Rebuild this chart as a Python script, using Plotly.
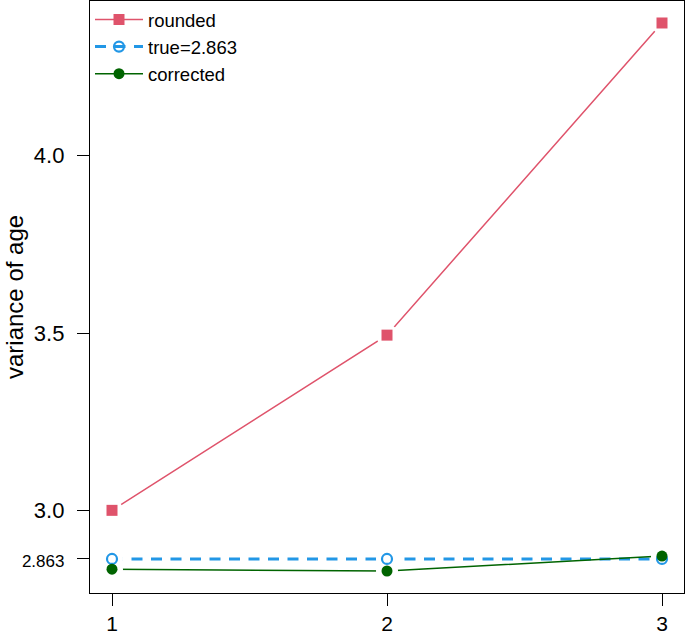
import plotly.graph_objects as go

# data
x = [1, 2, 3]
rounded = [3.0, 3.494, 4.374]
true_val = [2.863, 2.863, 2.863]
corrected = [2.834, 2.829, 2.871]

series = [
    ("rounded", rounded, "#DF536B", dict(symbol="square", size=11, color="#DF536B"),
     dict(color="#DF536B", width=1.5)),
    ("true=2.863", true_val, "#2297E6",
     dict(symbol="circle-open", size=10, color="#2297E6", line=dict(width=2.2, color="#2297E6")),
     dict(color="#2297E6", width=3, dash="11px,8.5px")),
    ("corrected", corrected, "#006400", dict(symbol="circle", size=11, color="#006400"),
     dict(color="#006400", width=1.5)),
]

fig = go.Figure()

# lines (and legend entries)
for name, y, col, mk, ln in series:
    fig.add_trace(go.Scatter(x=x, y=y, mode="lines+markers", name=name,
                             line=ln, marker=mk, hoverinfo="skip"))

# white halos -> gaps around the points like R type="b"
for name, y, col, mk, ln in series:
    fig.add_trace(go.Scatter(x=x, y=y, mode="markers", showlegend=False,
                             marker=dict(symbol="circle", size=22, color="white"),
                             hoverinfo="skip"))

# points on top
for name, y, col, mk, ln in series:
    fig.add_trace(go.Scatter(x=x, y=y, mode="markers", showlegend=False,
                             marker=mk, name=name))

ytickvals = [2.863, 3.0, 3.5, 4.0]
yticktext = ['<span style="font-size:17px">2.863</span>', "3.0", "3.5", "4.0"]

fig.update_layout(
    width=685, height=636,
    margin=dict(l=90, r=1, t=1, b=43),
    plot_bgcolor="white", paper_bgcolor="white",
    font=dict(family="Liberation Sans, Arial, sans-serif", color="black"),
    legend=dict(x=0, y=1, xanchor="left", yanchor="top", bgcolor="rgba(0,0,0,0)",
                font=dict(size=18.5), itemwidth=48, tracegroupgap=0),
    xaxis=dict(range=[0.92, 3.08], tickvals=x, ticktext=["1", "2", "3"],
               showgrid=False, zeroline=False, showline=True, mirror=True,
               linecolor="black", linewidth=1.3, ticks="outside", ticklen=12,
               tickwidth=1.3, tickcolor="black", tickfont=dict(size=21),
               ticklabelstandoff=0, automargin=False),
    yaxis=dict(range=[2.767, 4.436], tickvals=ytickvals, ticktext=yticktext,
               showgrid=False, zeroline=False, showline=True, mirror=True,
               linecolor="black", linewidth=1.3, ticks="outside", ticklen=12,
               tickwidth=1.3, tickcolor="black", tickfont=dict(size=22),
               ticklabelstandoff=8, automargin=False),
    annotations=[dict(text="variance of age", xref="paper", yref="paper",
                      x=0, y=0.5, xanchor="center", yanchor="middle",
                      xshift=-76, textangle=-90, showarrow=False,
                      font=dict(size=24))],
)

# drop the browser's default 8px body margin so the figure fills the window
fig.write_html("out.html", config={"displayModeBar": False},
               post_script="document.body.style.margin='0';")
